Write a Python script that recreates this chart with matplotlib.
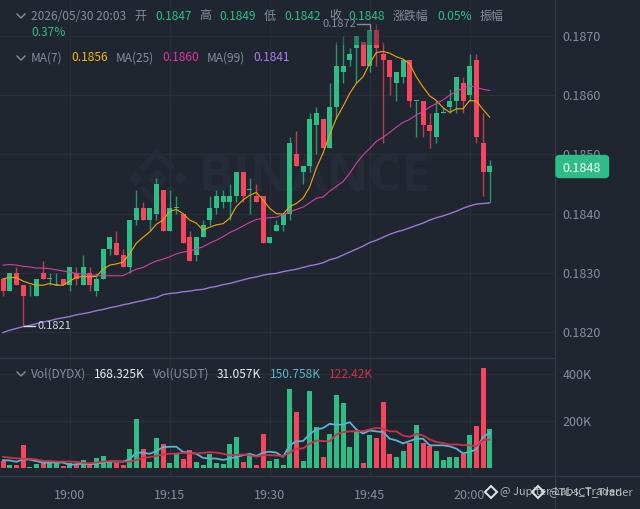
import matplotlib
matplotlib.use('Agg')
import matplotlib.pyplot as plt
import numpy as np
from matplotlib.patches import FancyBboxPatch, Rectangle

plt.rcParams['font.family'] = ['Noto Sans CJK SC', 'DejaVu Sans']

# Candles, 18:50 to 20:03, one per minute
opens = [.1829, .1827, .1830, .1828, .1826, .1826, .1830, .1829, .1828, .1829,
         .1828, .1830, .1828, .1830, .1827, .1829, .1834, .1835, .1833, .1831,
         .1839, .1841, .1839, .1840, .1844, .1837, .1841, .1840, .1836, .1833,
         .1836, .1839, .1841, .1842, .1842, .1843, .1847, .1844, .1843, .1843,
         .1835, .1837, .1838, .1840, .1850, .1847, .1848, .1855, .1856, .1851,
         .1858, .1864, .1866, .1868, .1869, .1865, .1871, .1867, .1866, .1862,
         .1863, .1866, .1859, .1859, .1855, .1853, .1857, .1858, .1859, .1862,
         .1860, .1866, .1852, .1847]
closes = [.1827, .1830, .1828, .1826, .1826, .1829, .1829, .1829, .1828, .1828,
          .1831, .1829, .1831, .1828, .1829, .1834, .1836, .1833, .1831, .1839,
          .1841, .1839, .1841, .1845, .1837, .1841, .1841, .1835, .1832, .1836,
          .1838, .1841, .1843, .1843, .1843, .1847, .1843, .1844, .1842, .1835,
          .1836, .1838, .1840, .1852, .1848, .1848, .1856, .1857, .1851, .1858,
          .1865, .1865, .1867, .1870, .1865, .1871, .1868, .1866, .1863, .1864,
          .1866, .1859, .1859, .1855, .1854, .1857, .1857, .1859, .1863, .1859,
          .1865, .1853, .1847, .1848]
highs = [.1829, .1830, .1831, .1828, .1828, .1829, .1832, .1830, .1830, .1829,
         .1831, .1831, .1833, .1831, .1830, .1834, .1836, .1837, .1834, .1839,
         .1844, .1842, .1841, .1846, .1844, .1844, .1843, .1840, .1837, .1836,
         .1839, .1843, .1844, .1844, .1845, .1847, .1847, .1846, .1845, .1843,
         .1836, .1839, .1840, .1853, .1854, .1848, .1857, .1858, .1856, .1862,
         .1869, .1870, .1868, .1870, .1869, .1871, .1872, .1869, .1866, .1864,
         .1866, .1866, .1859, .1859, .1857, .1859, .1858, .1861, .1863, .1863,
         .1867, .1867, .1857, .1849]
lows = [.1826, .1827, .1828, .1821, .1826, .1826, .1829, .1828, .1828, .1828,
        .1827, .1828, .1828, .1827, .1826, .1829, .1833, .1833, .1831, .1830,
        .1838, .1839, .1837, .1839, .1837, .1837, .1840, .1835, .1832, .1832,
        .1836, .1838, .1840, .1841, .1839, .1842, .1842, .1840, .1842, .1835,
        .1835, .1837, .1837, .1839, .1848, .1845, .1847, .1850, .1851, .1851,
        .1856, .1862, .1865, .1862, .1865, .1864, .1865, .1852, .1860, .1859,
        .1862, .1858, .1853, .1853, .1851, .1852, .1857, .1857, .1857, .1857,
        .1859, .1852, .1843, .1842]

ma7 = [.18290, .18292, .18292, .18286, .18282, .18279, .18279, .18282, .18279, .18279,
       .18286, .18292, .18294, .18293, .18294, .18306, .18313, .18315, .18318, .18332,
       .18350, .18360, .18369, .18382, .18389, .18404, .18407, .18400, .18389, .18384,
       .18372, .18377, .18381, .18383, .18392, .18412, .18423, .18431, .18436, .18423,
       .18409, .18400, .18399, .18412, .18417, .18426, .18445, .18477, .18502, .18533,
       .18561, .18581, .18603, .18620, .18631, .18654, .18672, .18674, .18671, .18665,
       .18661, .18653, .18631, .18614, .18599, .18591, .18579, .18571, .18577, .18577,
       .18591, .18590, .18576, .18563]
ma25 = [.18313, .18314, .18313, .18311, .18310, .18308, .18308, .18307, .18305, .18303,
        .18301, .18299, .18298, .18297, .18295, .18295, .18295, .18295, .18295, .18301,
        .18306, .18309, .18315, .18320, .18323, .18327, .18332, .18335, .18337, .18340,
        .18344, .18350, .18355, .18361, .18368, .18373, .18379, .18385, .18390, .18392,
        .18393, .18394, .18398, .18403, .18407, .18411, .18418, .18426, .18428, .18438,
        .18446, .18454, .18468, .18485, .18499, .18510, .18522, .18529, .18537, .18546,
        .18554, .18559, .18567, .18572, .18580, .18586, .18592, .18600, .18606, .18612,
        .18616, .18613, .18610, .18608]
ma99 = [.18199, .18203, .18206, .18209, .18211, .18214, .18217, .18219, .18222, .18224,
        .18226, .18229, .18231, .18233, .18236, .18238, .18241, .18243, .18246, .18248,
        .18251, .18253, .18256, .18258, .18263, .18265, .18266, .18268, .18269, .18271,
        .18272, .18275, .18277, .18280, .18282, .18285, .18288, .18291, .18293, .18296,
        .18298, .18299, .18302, .18304, .18306, .18309, .18312, .18314, .18317, .18322,
        .18325, .18330, .18335, .18340, .18345, .18351, .18355, .18360, .18365, .18369,
        .18372, .18376, .18380, .18384, .18389, .18393, .18396, .18400, .18404, .18409,
        .18413, .18416, .18417, .18418]

# Volume in thousands
vol = [31, 14, 14, 100, 8, 17, 28, 28, 21, 11,
       21, 14, 34, 14, 45, 53, 28, 21, 14, 81,
       208, 81, 28, 127, 105, 25, 63, 38, 80, 28,
       14, 63, 21, 17, 102, 134, 29, 63, 15, 146,
       31, 38, 13, 337, 238, 32, 329, 175, 48, 148,
       311, 277, 91, 154, 21, 140, 127, 281, 63, 50,
       74, 106, 186, 109, 95, 73, 34, 48, 49, 63,
       140, 178, 424, 168]
vol_ma1 = [35, 34, 28, 38, 38, 31, 25, 25, 25, 25,
           15, 18, 20, 18, 20, 25, 29, 29, 29, 39,
           67, 67, 62, 74, 90, 92, 92, 70, 67, 62,
           45, 42, 42, 36, 42, 49, 56, 62, 53, 67,
           71, 67, 49, 98, 115, 116, 146, 165, 171, 189,
           185, 186, 196, 165, 148, 161, 157, 154, 126, 119,
           106, 116, 126, 126, 98, 98, 98, 94, 84, 64,
           70, 81, 133, 151]
vol_ma2 = [49, 46, 43, 41, 41, 38, 32, 31, 29, 29,
           29, 28, 24, 22, 25, 29, 31, 31, 29, 29,
           36, 45, 48, 53, 60, 62, 63, 66, 64, 64,
           66, 69, 67, 62, 56, 57, 59, 56, 50, 56,
           56, 55, 52, 67, 84, 85, 105, 118, 116, 115,
           144, 154, 157, 158, 158, 165, 172, 169, 157, 157,
           139, 134, 146, 140, 123, 112, 108, 101, 102, 99,
           98, 94, 120, 122]

price_ticks = [.1820, .1830, .1840, .1850, .1860, .1870]
vol_ticks = [200, 400]
time_ticks = [10, 25, 40, 55, 70]
time_labels = ['19:00', '19:15', '19:30', '19:45', '20:00']

BG = '#1f2630'
GRID = '#29303a'
AXIS = '#333a45'
MARK = '#262c37'
GREEN = '#2ebd85'
RED = '#f6465d'
GREY = '#848e9c'

W, H = 640, 509


def px_axes(fig, x0, y0, x1, y1):
    # axes box given in picture pixels, y going down
    return fig.add_axes([x0 / W, 1 - y1 / H, (x1 - x0) / W, (y1 - y0) / H])


fig = plt.figure(figsize=(6.4, 5.09), dpi=100, facecolor=BG)
ax = px_axes(fig, 0, 0, 555, 358)
ax2 = px_axes(fig, 0, 358, 555, 476)

idx = np.arange(len(opens))
colors = [GREEN if c >= o else RED for o, c in zip(opens, closes)]
xlim = (-0.45, 82.8)

for a in (ax, ax2):
    a.set_facecolor(BG)
    a.set_xlim(xlim)
    for s in a.spines.values():
        s.set_visible(False)
    a.set_xticks(time_ticks)
    a.grid(True, color=GRID, lw=1)
    a.set_axisbelow(True)
    a.yaxis.tick_right()
    a.tick_params(length=0, colors=GREY, labelsize=9)

# price pane
ax.set_ylim(.1820 - 26 / 59200, .1870 + 36 / 59200)
ax.set_yticks(price_ticks)
ax.set_yticklabels(['%.4f' % p for p in price_ticks])
ax.tick_params(axis='y', pad=5.5)
ax.set_xticklabels([])


# exchange watermark behind the candles
def wx(x):
    return x / 555


def wy(y):
    return 1 - y / 358


ax.text(wx(314), wy(178), 'BINANCE', transform=ax.transAxes, color=MARK, fontsize=37,
        fontweight='bold', family='Open Sans', ha='center', va='center', zorder=1)
ax.scatter([wx(157)], [wy(178)], transform=ax.transAxes, marker='D', s=104, color=MARK, lw=0, zorder=1)
ax.scatter([wx(135), wx(180)], [wy(178), wy(178)], transform=ax.transAxes, marker='D', s=50,
           color=MARK, lw=0, zorder=1)
ax.plot([wx(141), wx(157), wx(173)], [wy(169), wy(153), wy(169)], transform=ax.transAxes,
        color=MARK, lw=4.5, zorder=1, solid_joinstyle='miter', solid_capstyle='butt')
ax.plot([wx(141), wx(157), wx(173)], [wy(187), wy(203), wy(187)], transform=ax.transAxes,
        color=MARK, lw=4.5, zorder=1, solid_joinstyle='miter', solid_capstyle='butt')

ax.vlines(idx, lows, highs, colors=colors, lw=1, alpha=0.75, zorder=3)
bottoms = [min(o, c) for o, c in zip(opens, closes)]
heights = [max(abs(c - o), .000012) for o, c in zip(opens, closes)]
ax.bar(idx, heights, bottom=bottoms, width=0.75, color=colors, zorder=3)

ax.plot(idx, ma7, color='#f0a70a', lw=0.8, zorder=4)
ax.plot(idx, ma25, color='#d63fa0', lw=0.8, zorder=4)
ax.plot(idx, ma99, color='#9b78d8', lw=1.0, zorder=4)

# the header row dims what runs under it
ax.add_patch(Rectangle((0, wy(45)), 1, 1 - wy(45), transform=ax.transAxes, facecolor=BG,
                       edgecolor='none', alpha=0.4, zorder=4.5))

# high and low marks
ax.plot([53.1, 55, 55], [.18720, .18720, .18710], color=GREY, lw=1, zorder=5)
ax.text(53.0, .18720, '0.1872', color=GREY, fontsize=8, ha='right', va='center', zorder=5)
ax.plot([3.2, 4.8], [.1821, .1821], color='#d5d9de', lw=1, zorder=5)
ax.text(5.2, .1821, '0.1821', color='#d5d9de', fontsize=8, ha='left', va='center', zorder=5)

# volume pane
ax2.set_ylim(-32, 468)
ax2.set_yticks(vol_ticks)
ax2.set_yticklabels(['200K', '400K'])
ax2.tick_params(axis='y', pad=5.5)
ax2.set_xticklabels(time_labels)
ax2.tick_params(axis='x', pad=9.5)
ax2.bar(idx, vol, width=0.75, color=colors, zorder=3)
ax2.plot(idx, vol_ma1, color='#56b7cf', lw=1.3, zorder=4)
ax2.plot(idx, vol_ma2, color='#cf304a', lw=1.3, zorder=4)

# pane borders
fig.add_artist(plt.Line2D([555 / W, 555 / W], [0, 1], color=AXIS, lw=1))
fig.add_artist(plt.Line2D([0, 555 / W], [1 - 358 / H, 1 - 358 / H], color=AXIS, lw=1))
fig.add_artist(plt.Line2D([0, 1], [1 - 476 / H, 1 - 476 / H], color=AXIS, lw=1))


def label_row(y, parts):
    for x, s, col in parts:
        fig.text(x / W, 1 - y / H, s, color=col, fontsize=8.6, va='center', ha='left', zorder=10)


def chevron(y):
    fig.add_artist(plt.Line2D([17 / W, 21 / W, 25 / W],
                              [1 - (y - 2) / H, 1 - (y + 2) / H, 1 - (y - 2) / H],
                              color=GREY, lw=1))


chevron(16)
label_row(16, [(31, '2026/05/30 20:03', GREY), (134, '开', GREY), (155, '0.1847', GREEN),
               (199, '高', GREY), (219, '0.1849', GREEN), (264, '低', GREY), (284, '0.1842', GREEN),
               (329, '收', GREY), (348, '0.1848', GREEN), (393, '涨跌幅', GREY), (437, '0.05%', GREEN),
               (480, '振幅', GREY)])
label_row(33, [(31, '0.37%', GREEN)])
chevron(58)
label_row(58, [(31, 'MA(7)', GREY), (71, '0.1856', '#f0b90b'), (116, 'MA(25)', GREY),
               (162, '0.1860', '#e0359f'), (207, 'MA(99)', GREY), (253, '0.1841', '#a97ef0')])
chevron(374)
label_row(374, [(31, 'Vol(DYDX)', GREY), (94, '168.325K', '#eaecef'), (153, 'Vol(USDT)', GREY),
                (217, '31.057K', '#eaecef'), (270, '150.758K', '#56b7cf'), (329, '122.42K', '#cf304a')])

# last price tag
tag = FancyBboxPatch((556 / W, 1 - 177.5 / H), 52.5 / W, 22 / H, boxstyle='round,pad=0,rounding_size=0.006',
                     transform=fig.transFigure, facecolor=GREEN, edgecolor=GREEN, lw=1, zorder=8)
fig.add_artist(tag)
fig.text(582 / W, 1 - 169 / H, '0.1848', color='white', fontsize=9, ha='center', va='center', zorder=10)

# repost credits over the time axis
for x, s in [(500, '@ Jupiter-Labs_Trader.'), (548, '@TL-ICT_Trader')]:
    fig.text(x / W, 1 - 492 / H, s, color='#d8dadd', fontsize=8, ha='left', va='center', alpha=0.8, zorder=10)
for x in (491, 538):
    fig.add_artist(plt.Line2D([x / W], [1 - 492 / H], marker='D', ms=6, mfc='none', mec='#e4e6e9', mew=1.4,
                              ls='none', zorder=10))

fig.savefig('out.png', dpi=100, facecolor=BG)
